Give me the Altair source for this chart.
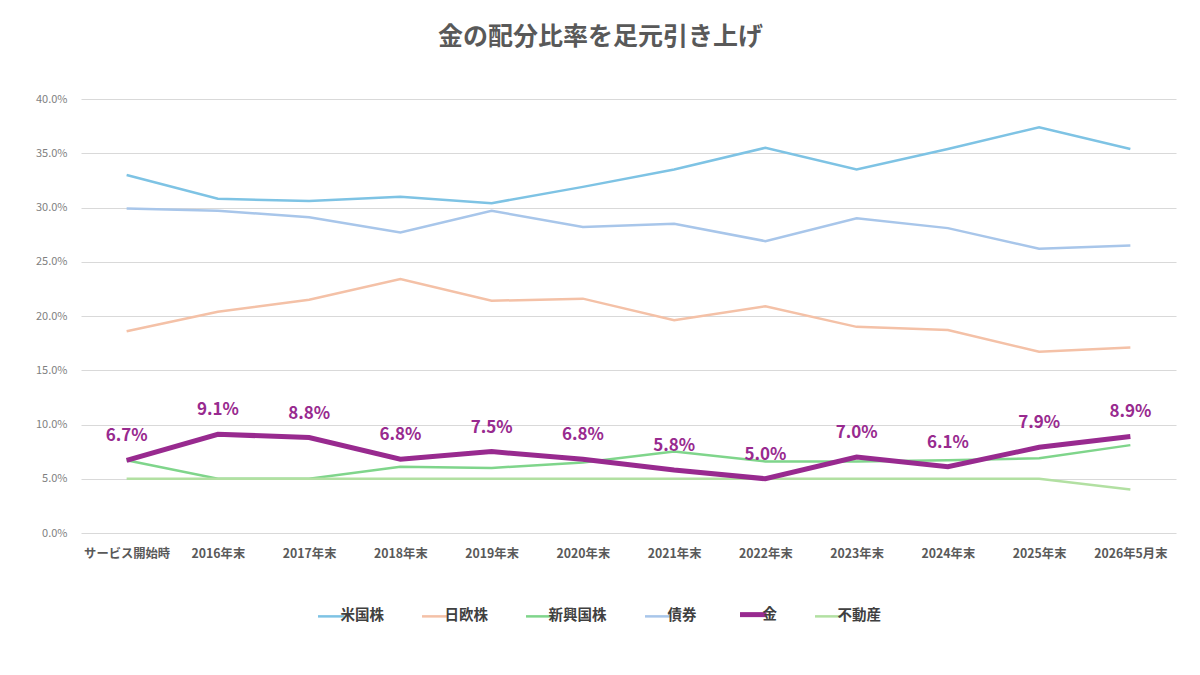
import altair as alt
import pandas as pd

categories = ["サービス開始時", "2016年末", "2017年末", "2018年末", "2019年末", "2020年末",
              "2021年末", "2022年末", "2023年末", "2024年末", "2025年末", "2026年5月末"]

series_names = ["米国株", "日欧株", "新興国株", "債券", "金", "不動産"]
series_colors = ["#7ec3e4", "#f4c1a7", "#7fd58b", "#a8c6ea", "#982a8f", "#b2e0a2"]

us_stock = [33.0, 30.8, 30.6, 31.0, 30.4, 31.9, 33.5, 35.5, 33.5, 35.4, 37.4, 35.4]
jp_eu_stock = [18.6, 20.4, 21.5, 23.4, 21.4, 21.6, 19.6, 20.9, 19.0, 18.7, 16.7, 17.1]
emerging_stock = [6.7, 5.0, 5.0, 6.1, 6.0, 6.5, 7.5, 6.6, 6.6, 6.7, 6.9, 8.1]
bonds = [29.9, 29.7, 29.1, 27.7, 29.7, 28.2, 28.5, 26.9, 29.0, 28.1, 26.2, 26.5]
gold = [6.7, 9.1, 8.8, 6.8, 7.5, 6.8, 5.8, 5.0, 7.0, 6.1, 7.9, 8.9]
real_estate = [5.0, 5.0, 5.0, 5.0, 5.0, 5.0, 5.0, 5.0, 5.0, 5.0, 5.0, 4.0]

y_ticks = [0, 0.05, 0.10, 0.15, 0.20, 0.25, 0.30, 0.35, 0.40]

values_by_series = {
    "米国株": us_stock,
    "日欧株": jp_eu_stock,
    "新興国株": emerging_stock,
    "債券": bonds,
    "金": gold,
    "不動産": real_estate,
}

rows = []
for name in series_names:
    for cat, v in zip(categories, values_by_series[name]):
        rows.append({"category": cat, "series": name, "value": v / 100})
df = pd.DataFrame(rows)

FONT = "Noto Sans CJK JP"

x_enc = alt.X("category:N", sort=categories,
              scale=alt.Scale(type="point", padding=0.5),
              axis=alt.Axis(title=None, labelAngle=0, labelFontSize=12.3, labelFontWeight="bold",
                            labelColor="#595959", labelPadding=14, ticks=False, domain=False,
                            grid=False, labelFont=FONT))
y_enc = alt.Y("value:Q", scale=alt.Scale(domain=[0, 0.4], nice=False),
              axis=alt.Axis(title=None, values=y_ticks, format=".1%", labelFontSize=11,
                            labelColor="#7f7f7f", labelPadding=14, ticks=False, domain=False,
                            gridColor="#d9d9d9", gridWidth=1, labelFont=FONT))
color_enc = alt.Color("series:N",
                      scale=alt.Scale(domain=series_names, range=series_colors),
                      legend=alt.Legend(title=None, orient="none", direction="horizontal",
                                        columns=6, legendX=243, legendY=508,
                                        symbolType="stroke", symbolSize=700,
                                        symbolStrokeWidth=alt.ExprRef(expr="datum.label === '金' ? 5 : 2.5"),
                                        labelFontSize=14.5, labelFontWeight="bold",
                                        labelColor="#404040", labelFont=FONT,
                                        labelOffset=2, columnPadding=33))

others = df[df["series"] != "金"]
gold_df = df[df["series"] == "金"]

lines = alt.Chart(others).mark_line(strokeWidth=2.5).encode(
    x=x_enc, y=y_enc, color=color_enc
)
gold_line = alt.Chart(gold_df).mark_line(strokeWidth=5).encode(
    x=x_enc, y=y_enc, color=color_enc
)
gold_text = alt.Chart(gold_df).mark_text(dy=-24, fontSize=17, fontWeight="bold",
                                         color="#982a8f", font=FONT).encode(
    x=x_enc, y=y_enc, text=alt.Text("value:Q", format=".1%")
)

chart = alt.layer(lines, gold_line, gold_text).properties(
    width=1095, height=434,
    title=alt.TitleParams("金の配分比率を足元引き上げ", fontSize=25, fontWeight="bold",
                          color="#595959", anchor="middle", frame="group", offset=43,
                          dx=-28, font=FONT),
    autosize=alt.AutoSizeParams(type="none"),
    padding={"left": 81, "top": 99, "right": 24, "bottom": 142},
    background="white",
).configure_view(stroke=None)

chart.save("out.html", embed_options={"renderer": "svg", "actions": False})
